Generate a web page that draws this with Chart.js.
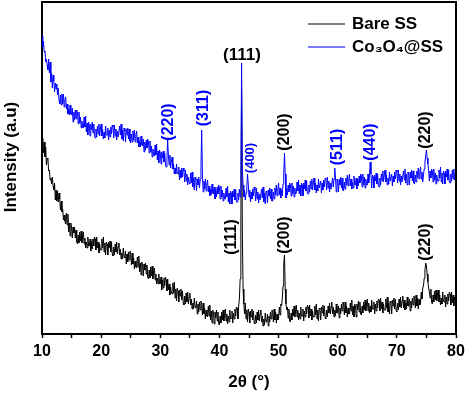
<!DOCTYPE html>
<html>
<head>
<meta charset="utf-8">
<script src="https://cdn.jsdelivr.net/npm/chart.js@4.4.1/dist/chart.umd.min.js"></script>
<style>
  html, body { margin: 0; padding: 0; background: #fff; }
  canvas { display: block; }
</style>
</head>
<body>
<canvas id="xrd" width="474" height="399"></canvas>
<script>
// scan grid: 10..80 deg, 0.125 deg step
const scanStart = 10;
const scanStep = 0.125;

// intensities (a.u.), one row per degree (8 steps)
const bareSS = [
  187,196,181,192,177,187,169,176, 175,163,164,154,156,150,157,148,
  144,151,134,144,133,143,132,141, 135,124,133,122,125,114,119,113,
  110,121,109,120,102,111,98,111,  107,96,107,101,107,96,104,92,
  90,99,91,102,93,103,91,98,       102,90,96,86,92,86,97,88,
  88,95,83,93,85,95,88,97,         95,84,97,86,92,81,90,84,
  84,95,86,97,82,91,79,92,         90,79,92,86,93,82,92,80,
  78,87,79,90,82,92,80,87,         91,79,85,75,81,75,86,77,
  76,83,70,80,72,82,74,83,         80,69,81,70,76,65,73,67,
  66,77,67,78,62,71,59,72,         69,58,70,64,71,60,69,57,
  55,64,56,67,58,68,55,62,         66,54,60,50,56,50,60,51,
  50,57,44,54,46,56,48,57,         54,43,55,44,50,39,47,41,
  40,51,41,52,36,45,33,46,         43,32,44,38,45,34,43,31,
  29,38,30,41,32,42,30,37,         41,29,35,25,31,25,36,27,
  26,33,20,30,22,32,24,33,         30,19,31,20,26,15,24,18,
  17,28,18,29,14,23,11,24,         21,10,22,16,24,13,22,10,
  9,18,11,22,14,24,13,20,          25,13,20,10,18,12,24,15,
  16,23,11,21,15,25,18,27,         26,15,28,35,55,110,245,100,
  45,30,20,31,15,24,12,25,         22,11,23,17,25,14,23,11,
  10,19,11,22,14,24,13,20,         24,12,18,8,15,9,21,12,
  13,20,8,18,12,22,15,24,          23,12,25,14,22,11,20,14,
  16,27,19,30,28,35,48,70,         79,45,30,24,27,16,25,13,
  12,21,14,25,18,28,17,24,         29,17,24,14,21,15,27,18,
  18,25,13,23,17,27,20,29,         27,16,29,18,25,14,23,17,
  17,28,19,30,15,24,13,26,         25,14,27,21,29,18,28,16,
  15,24,17,28,21,31,20,27,         32,20,27,17,24,18,30,21,
  21,28,16,26,20,30,23,32,         30,19,32,21,28,17,26,20,
  20,31,23,34,19,28,17,30,         28,17,30,24,33,22,32,20,
  19,28,21,32,24,34,23,30,         35,23,31,21,28,22,34,25,
  25,32,20,30,23,33,26,35,         34,23,36,25,32,21,30,24,
  24,35,26,37,22,31,20,33,         31,20,34,28,36,25,35,23,
  22,31,24,35,27,37,26,33,         38,26,34,24,31,25,37,28,
  28,35,23,33,26,36,29,38,         37,26,39,28,36,25,35,29,
  31,42,35,46,48,56,64,71,         68,60,52,46,42,36,45,32,
  30,39,32,43,34,44,33,40,         44,32,39,29,36,30,42,33,
  32,39,27,37,30,40,33,42,         40,29,42,31,39,28,37,31,
  36
];

const co3o4SS = [
  298,287,293,282,283,272,275,269, 264,275,261,272,252,261,246,259,
  253,242,251,245,250,239,246,234, 230,239,229,240,230,240,227,234,
  237,225,230,220,225,219,229,220, 219,226,212,222,214,224,215,224,
  221,210,222,211,217,206,213,207, 206,217,207,218,202,211,199,212,
  209,198,210,204,212,201,210,198, 196,205,197,208,200,210,198,205,
  210,198,205,195,202,196,208,199, 199,206,194,204,197,207,200,209,
  207,196,209,198,205,194,203,197, 197,208,199,210,195,204,193,206,
  203,192,205,199,206,195,205,193, 191,200,192,203,194,204,192,199,
  203,191,197,187,193,187,198,189, 188,195,182,192,184,194,186,195,
  192,181,193,182,188,177,185,179, 178,189,179,190,174,183,171,184,
  181,170,182,176,183,172,181,169, 167,176,194,178,169,179,166,173,
  177,165,170,160,166,160,170,161, 160,167,154,164,156,166,157,166,
  163,152,164,153,160,149,157,151, 150,161,151,162,147,156,144,157,
  154,143,155,149,157,146,155,165, 204,160,142,153,145,155,143,150,
  154,142,148,138,145,139,150,141, 140,147,135,145,137,147,140,149,
  146,135,148,137,144,133,141,135, 135,146,137,148,132,141,130,143,
  141,130,143,137,145,134,144,132, 132,141,134,145,137,160,271,165,
  149,137,144,134,141,148,160,150, 137,144,132,142,135,145,138,147,
  144,133,146,135,142,131,140,134, 134,145,136,147,132,141,130,143,
  142,131,144,138,146,135,145,133, 133,142,135,146,139,149,138,145,
  151,139,146,136,144,138,150,160, 181,160,136,146,139,149,142,151,
  149,138,151,140,148,137,146,140, 141,152,143,154,140,149,138,151,
  149,138,151,145,154,143,153,141, 140,149,142,153,145,155,144,151,
  156,144,151,141,149,143,155,146, 146,153,141,151,144,154,147,156,
  155,144,157,146,153,142,151,145, 145,156,147,155,166,156,142,155,
  153,142,155,149,157,146,156,144, 143,152,145,156,149,159,148,155,
  160,148,155,145,152,146,158,149, 149,156,145,155,148,158,151,160,
  158,147,160,149,157,146,155,149, 149,160,151,160,172,160,146,159,
  157,146,159,153,161,150,160,148, 147,156,149,160,153,163,152,159,
  164,152,159,149,156,150,162,153, 153,160,148,158,152,162,155,164,
  162,151,164,153,160,149,158,152, 152,163,154,165,151,160,149,162,
  160,149,162,156,164,153,163,151, 150,159,152,163,156,166,155,162,
  167,155,162,152,159,165,172,178, 184,176,170,164,153,163,156,165,
  163,152,165,154,161,150,159,153, 153,164,156,167,152,161,150,163,
  161,150,163,157,165,154,164,152, 151,160,153,164,155,165,154,161,
  160
];

const xTicks = [10, 20, 30, 40, 50, 60, 70, 80];

// peak labels: text, anchor in data units (2theta, intensity)
const peakText  = ['(220)', '(311)', '(111)', '(400)', '(200)', '(511)', '(440)', '(220)', '(111)', '(200)', '(220)'];
const peakTheta = [31.4, 37.3, 43.8, 45.3, 51.1, 59.9, 65.5, 74.9, 42.1, 51.1, 74.8];
const peakLevel = [212, 226, 279, 176, 202, 187, 192, 204, 97, 99, 92];
const peakSeries = [1, 1, 0, 1, 0, 1, 1, 0, 0, 0, 0]; // 0 = SS reflections, 1 = Co3O4

const seriesNames = ['Bare SS', 'Co\u2083O\u2084@SS'];
const seriesColors = ['#000000', '#0000ff'];

const toPoints = arr => arr.map((v, i) => ({ x: scanStart + i * scanStep, y: v }));

const FONT = "'Liberation Sans', Arial, sans-serif";

const overlay = {
  id: 'overlay',
  afterDraw(chart) {
    const { ctx, chartArea: a, scales: { x, y } } = chart;
    ctx.save();

    // close the frame
    ctx.strokeStyle = '#000';
    ctx.lineWidth = 2;
    ctx.beginPath();
    ctx.moveTo(a.left, a.top);
    ctx.lineTo(a.right, a.top);
    ctx.lineTo(a.right, a.bottom);
    ctx.stroke();

    // peak labels
    ctx.textAlign = 'center';
    ctx.textBaseline = 'middle';
    peakText.forEach((t, i) => {
      const px = x.getPixelForValue(peakTheta[i]);
      const py = y.getPixelForValue(peakLevel[i]);
      let size = 16;
      if (t === '(400)') size = 13;
      if (i === 2) size = 17;
      ctx.font = 'bold ' + size + 'px ' + FONT;
      ctx.fillStyle = peakSeries[i] === 1 ? '#0000ff' : '#000';
      ctx.save();
      ctx.translate(px, py);
      if (i !== 2) ctx.rotate(-Math.PI / 2);
      ctx.fillText(t, 0, 0);
      ctx.restore();
    });

    // legend
    ctx.font = 'bold 17px ' + FONT;
    ctx.textAlign = 'left';
    seriesNames.forEach((name, i) => {
      const ly = 24 + i * 23;
      ctx.strokeStyle = i === 0 ? '#555555' : '#4d4dff';
      ctx.lineWidth = 1.5;
      ctx.beginPath();
      ctx.moveTo(308, ly);
      ctx.lineTo(345, ly);
      ctx.stroke();
      ctx.fillStyle = '#000';
      ctx.fillText(name, 352, ly);
    });

    // y title
    ctx.font = 'bold 17px ' + FONT;
    ctx.textAlign = 'center';
    ctx.translate(11, 157);
    ctx.rotate(-Math.PI / 2);
    ctx.fillText('Intensity (a.u)', 0, 0);

    ctx.restore();
  }
};

new Chart(document.getElementById('xrd'), {
  type: 'line',
  data: {
    datasets: [
      {
        label: seriesNames[0],
        data: toPoints(bareSS),
        borderColor: seriesColors[0],
        borderWidth: 1,
        pointRadius: 0,
        order: 1,
      },
      {
        label: seriesNames[1],
        data: toPoints(co3o4SS),
        borderColor: seriesColors[1],
        borderWidth: 1,
        pointRadius: 0,
        order: 0,
      },
    ],
  },
  options: {
    responsive: false,
    animation: false,
    layout: { padding: { top: 2, right: 18, left: 0, bottom: 0 } },
    plugins: {
      legend: { display: false },
      tooltip: { enabled: false },
    },
    scales: {
      x: {
        type: 'linear',
        min: 10,
        max: 80,
        afterFit: s => { s.height = 65; },
        border: { color: '#000', width: 2 },
        grid: { drawOnChartArea: false, color: '#000', tickLength: 4, tickWidth: 1.5 },
        ticks: {
          stepSize: 5,
          color: '#000',
          padding: 4,
          maxRotation: 0,
          font: { family: FONT, size: 16, weight: 'bold' },
          callback: v => (xTicks.includes(v) ? String(v) : ''),
        },
        title: {
          display: true,
          text: '2\u03b8 (\u00b0)',
          color: '#000',
          padding: { top: 0, bottom: 6 },
          font: { family: FONT, size: 17, weight: 'bold' },
        },
      },
      y: {
        min: 0,
        max: 332,
        afterFit: s => { s.width = 42; },
        border: { color: '#000', width: 2 },
        grid: { display: false },
        ticks: { display: false },
      },
    },
  },
  plugins: [overlay],
});
</script>
</body>
</html>
